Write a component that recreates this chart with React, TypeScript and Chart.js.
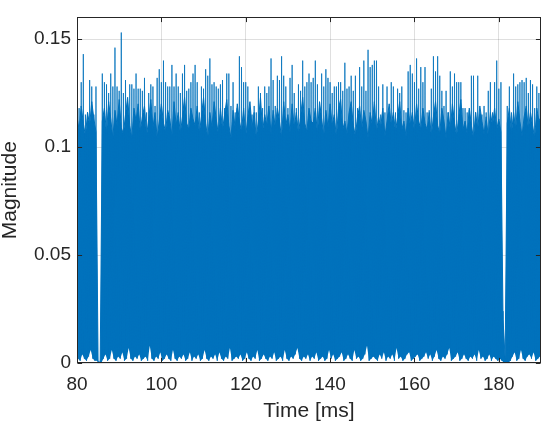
import { useEffect, useRef } from "react";
import { Chart, registerables } from "chart.js";

Chart.register(...registerables);

// Sampling grid of the magnitude trace (ms)
const startTimeMs = 80;
const sampleStepMs = 0.5;

// Upper excursions (spike tops) of the magnitude trace, units of 1e-3, one per sample (80.0 ... 190.0 ms)
const peakMagX1000 = [
  134, 118, 130, 143, 115, 116, 131, 128, 115, 128,
  1, 1,
  134, 130, 129, 125, 134, 128, 146, 128, 126, 153,
  125, 131, 116, 129, 129, 127, 134, 127, 127, 126,
  132, 116, 125, 129, 128, 119, 132, 136, 130, 140,
  130, 128, 128, 138, 128, 134, 128, 125, 134, 138,
  126, 127, 130, 134,
  138, 130, 116, 128, 127, 136, 133, 141, 129, 130,
  128, 127, 129, 131, 118, 134, 134, 119, 130, 116,
  118, 142, 137, 130, 130, 128, 118, 115, 119, 116,
  128, 125, 118, 128, 125, 128, 141, 131, 119, 133,
  131, 142, 133, 128, 118, 132, 138, 125, 118, 129,
  126, 140, 128, 130, 134, 130,
  132, 140, 129, 118, 134, 128, 136, 132, 130, 125,
  128, 128, 130, 130, 126, 139, 127, 128, 133, 126,
  133, 118, 137, 128, 140, 126, 145, 137, 138, 140,
  140, 128, 115, 129, 116, 128, 115, 130, 128, 116,
  127, 125, 128, 117, 116, 135, 138, 134, 130, 141,
  127, 137, 130, 137,
  116, 117, 127, 142, 135, 142, 133, 126, 119, 126,
  116, 135, 128, 134, 130, 130, 130, 118, 118, 116,
  117, 133, 133, 116, 133, 115, 115, 119, 116, 126,
  130, 116, 130, 140, 127, 130,
  24, 3,
  119, 128, 116, 134, 128, 129, 130, 131, 130, 132,
  125, 131, 129, 118, 128, 125, 134,
];

// Top of the densely filled band of the trace, units of 1e-3, same sample grid
const denseTopX1000 = [
  114, 108, 119, 111, 105, 116, 110, 121, 113, 107,
  0, 0,
  112, 118, 106, 121, 113, 104, 117, 110, 122, 109,
  106, 115, 123, 110, 104, 118, 112, 120, 107, 114,
  119, 105, 113, 122, 109, 116, 104, 112, 120, 111,
  107, 117, 113, 105, 121, 110, 116, 106, 114, 123,
  111, 108, 118, 113,
  110, 119, 106, 114, 123, 111, 104, 116, 109, 121,
  113, 106, 118, 108, 115, 122, 110, 104, 117, 109,
  120, 112, 107, 118, 105, 114, 121, 109, 116, 104,
  112, 123, 107, 115, 110, 119, 106, 117, 109, 118,
  112, 104, 121, 110, 115, 107, 120, 109, 116, 106,
  114, 123, 111, 107, 118, 112,
  111, 118, 106, 121, 113, 105, 117, 109, 120, 110,
  115, 104, 118, 122, 108, 112, 106, 116, 121, 110,
  105, 114, 119, 108, 117, 112, 104, 116, 110, 121,
  107, 114, 109, 118, 105, 112, 120, 110, 116, 107,
  114, 121, 108, 112, 105, 118, 110, 116, 107, 120,
  112, 108, 118, 111,
  108, 116, 105, 114, 121, 110, 106, 118, 112, 104,
  116, 108, 120, 111, 105, 114, 122, 108, 112, 106,
  118, 110, 104, 116, 108, 119, 112, 106, 114, 105,
  116, 110, 118, 108, 113, 107,
  20, 2,
  111, 118, 106, 116, 108, 121, 112, 105, 114, 119,
  108, 116, 110, 104, 118, 112, 114,
];

// Lower excursions (floor) of the trace, units of 1e-3, half a step after each sample
const troughMagX1000 = [
  2, 1, 4, 2, 1, 3, 6, 2, 1, 1,
  0, 0,
  2, 4, 1, 2, 6, 2, 1, 3, 2, 5,
  1, 2, 7, 2, 1, 3, 2, 4, 1, 2,
  3, 1, 8, 2, 1, 3, 2, 5, 1, 2,
  4, 2, 1, 6, 2, 1, 3, 2, 4, 1,
  2, 5, 1, 3,
  2, 4, 1, 2, 6, 2, 1, 3, 2, 4,
  1, 5, 2, 1, 3, 2, 7, 1, 2, 3,
  2, 4, 1, 2, 5, 2, 1, 3, 2, 6,
  1, 2, 4, 2, 1, 3, 2, 5, 1, 2,
  3, 1, 6, 2, 1, 3, 2, 4, 7, 2,
  1, 3, 2, 4, 1,
  3, 2, 5, 1, 2, 3, 1, 2, 6, 2,
  4, 1, 2, 3, 5, 1, 2, 4, 2, 1,
  6, 2, 3, 1, 2, 4, 8, 1, 2, 3,
  2, 1, 4, 2, 5, 1, 3, 2, 4, 1,
  7, 2, 3, 1, 2, 4, 5, 1, 2, 3,
  4, 1, 2, 3, 5,
  2, 4, 1, 3, 6, 2, 1, 3, 2, 4,
  7, 1, 2, 3, 5, 1, 2, 4, 2, 1,
  3, 2, 4, 1, 6, 2, 3, 1, 2, 4,
  1, 3, 2, 1, 2,
  1, 0, 0, 0, 1,
  3, 5, 1, 2, 6, 2, 1, 3, 4, 2,
  5, 1, 2, 3, 4,
];

const xTickValues = [80, 100, 120, 140, 160, 180];
const yTickValues = [0, 0.05, 0.1, 0.15];
const xLimits = [80, 190];
const yLimits = [0, 0.16];
const xLabel = "Time [ms]";
const yLabel = "Magnitude";

const FONT = "'Liberation Sans', Arial, Helvetica, sans-serif";
const AXIS_COLOR = "#262626";
const GRID_COLOR = "rgba(38,38,38,0.15)";
const LINE_COLOR = "#0072BD";

export default function App() {
  const canvasRef = useRef<HTMLCanvasElement>(null);

  useEffect(() => {
    const canvas = canvasRef.current;
    if (!canvas) return;

    const trace: { x: number; y: number }[] = [];
    const dense: { x: number; y: number }[] = [];
    const floor: { x: number; y: number }[] = [];
    peakMagX1000.forEach((p, i) => {
      const t = startTimeMs + i * sampleStepMs;
      const tLow = t + sampleStepMs / 2;
      trace.push({ x: t, y: p / 1000 });
      trace.push({ x: tLow, y: troughMagX1000[i] / 1000 });
      dense.push({ x: t, y: denseTopX1000[i] / 1000 });
      floor.push({ x: tLow, y: troughMagX1000[i] / 1000 });
    });

    const boxPlugin = {
      id: "matlabBox",
      afterDatasetsDraw(chart: any) {
        const { ctx, chartArea: a, scales } = chart;
        const L = Math.round(a.left) + 0.5;
        const R = Math.round(a.right) - 0.5;
        const T = Math.round(a.top) + 0.5;
        const B = Math.round(a.bottom) - 0.5;
        const len = 4.6;
        ctx.save();
        ctx.strokeStyle = AXIS_COLOR;
        ctx.lineWidth = 1;
        ctx.beginPath();
        xTickValues.forEach((v) => {
          const px = Math.round(scales.x.getPixelForValue(v)) + 0.5;
          ctx.moveTo(px, B);
          ctx.lineTo(px, B - len);
          ctx.moveTo(px, T);
          ctx.lineTo(px, T + len);
        });
        yTickValues.forEach((v) => {
          const py = Math.round(scales.y.getPixelForValue(v)) + 0.5;
          ctx.moveTo(L, py);
          ctx.lineTo(L + len, py);
          ctx.moveTo(R, py);
          ctx.lineTo(R - len, py);
        });
        ctx.stroke();
        ctx.strokeRect(L, T, R - L, B - T);
        ctx.restore();
      },
    };

    const chart = new Chart(canvas, {
      type: "line",
      data: {
        datasets: [
          {
            label: "trace",
            data: trace,
            borderColor: LINE_COLOR,
            borderWidth: 0.8,
            borderJoinStyle: "bevel",
            pointRadius: 0,
            tension: 0,
            fill: false,
          },
          {
            label: "dense",
            data: dense,
            borderColor: LINE_COLOR,
            backgroundColor: LINE_COLOR,
            borderWidth: 1,
            borderJoinStyle: "bevel",
            pointRadius: 0,
            tension: 0,
            fill: { target: 2 },
          },
          {
            label: "floor",
            data: floor,
            borderColor: "rgba(0,0,0,0)",
            backgroundColor: "rgba(0,0,0,0)",
            borderWidth: 1,
            pointRadius: 0,
            tension: 0,
            fill: false,
          },
        ],
      },
      options: {
        animation: false,
        responsive: false,
        parsing: false,
        normalized: true,
        events: [],
        layout: { padding: { left: 0, right: 9, top: 10, bottom: 0 } },
        plugins: {
          legend: { display: false },
          tooltip: { enabled: false },
        },
        scales: {
          x: {
            type: "linear",
            min: xLimits[0],
            max: xLimits[1],
            afterBuildTicks: (s: any) => {
              s.ticks = xTickValues.map((v) => ({ value: v }));
            },
            afterFit: (s: any) => {
              s.height = 63;
            },
            ticks: {
              font: { family: FONT, size: 19 },
              color: AXIS_COLOR,
              padding: 10,
              maxRotation: 0,
              autoSkip: false,
              callback: (v: any) => String(v),
            },
            grid: { color: GRID_COLOR, drawTicks: false, lineWidth: 1 },
            border: { display: false },
            title: {
              display: true,
              text: xLabel,
              color: AXIS_COLOR,
              font: { family: FONT, size: 21, lineHeight: 1 },
              padding: { top: 0, bottom: 4 },
            },
          },
          y: {
            type: "linear",
            min: yLimits[0],
            max: yLimits[1],
            afterBuildTicks: (s: any) => {
              s.ticks = yTickValues.map((v) => ({ value: v }));
            },
            afterFit: (s: any) => {
              s.width = 77;
            },
            ticks: {
              font: { family: FONT, size: 19 },
              color: AXIS_COLOR,
              padding: 6,
              autoSkip: false,
              callback: (v: any) => String(v),
            },
            grid: { color: GRID_COLOR, drawTicks: false, lineWidth: 1 },
            border: { display: false },
            title: {
              display: true,
              text: yLabel,
              color: AXIS_COLOR,
              font: { family: FONT, size: 21, lineHeight: 1 },
              padding: { top: 0, bottom: 0 },
            },
          },
        },
      },
      plugins: [boxPlugin],
    } as any);

    return () => chart.destroy();
  }, []);

  return (
    <div style={{ position: "fixed", left: 0, top: 0, width: 550, height: 426, background: "#fff" }}>
      <canvas ref={canvasRef} width={550} height={426} style={{ display: "block" }} />
    </div>
  );
}
